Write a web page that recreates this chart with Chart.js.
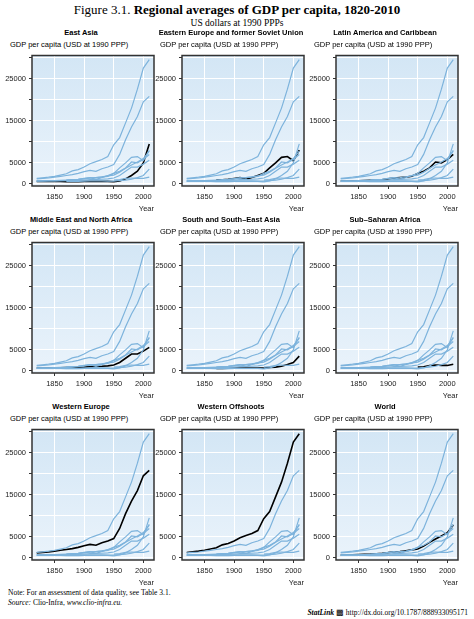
<!DOCTYPE html>
<html lang="en">
<head>
<meta charset="UTF-8">
<title>Regional averages of GDP per capita</title>
<script src="https://cdn.jsdelivr.net/npm/chart.js"></script>
<style>
  body { margin: 0; width: 474px; height: 619px; position: relative; font-family: "Liberation Sans", Arial, sans-serif; background: #fff; }
  #title { position: absolute; top: 2px; left: 0; width: 474px; text-align: center; font-family: "Liberation Serif", serif; font-size: 13px; }
  #sub { position: absolute; top: 18px; left: 0; width: 474px; text-align: center; font-family: "Liberation Serif", serif; font-size: 9.5px; }
  .panel { position: absolute; width: 158px; height: 185px; }
  .ptitle { position: absolute; top: 0; left: 0; width: 100%; text-align: center; font-weight: bold; font-size: 7.5px; font-family: "Liberation Sans Narrow", "Liberation Sans", sans-serif; }
  .ylab { position: absolute; top: 12px; left: 8px; font-size: 7.5px; font-family: "Liberation Sans Narrow", "Liberation Sans", sans-serif; white-space: nowrap; }
  .panel canvas { position: absolute; top: 20px; left: 0; }
  .foot { position: absolute; left: 8px; font-size: 7.5px; font-family: "Liberation Serif", serif; }
</style>
</head>
<body>
<div id="title">Figure 3.1. <b>Regional averages of GDP per capita, 1820-2010</b></div>
<div id="sub">US dollars at 1990 PPPs</div>
<div id="grid"></div>
<div class="foot" style="top:588px">Note: For an assessment of data quality, see Table 3.1.</div>
<div class="foot" style="top:598px"><i>Source:</i> Clio-Infra, <i>www.clio-infra.eu.</i></div>
<div class="foot" style="top:608px;left:auto;right:6px"><b><i>StatLink</i></b> &#9641; http://dx.doi.org/10.1787/888933095171</div>
<script>
const years = [1820,1830,1840,1850,1860,1870,1880,1890,1900,1910,1920,1930,1940,1950,1960,1970,1980,1990,2000,2010];
const regions = ["East Asia","Eastern Europe and former Soviet Union","Latin America and Caribbean",
  "Middle East and North Africa","South and South\u2013East Asia","Sub\u2013Saharan Africa",
  "Western Europe","Western Offshoots","World"];
const eastAsia = [600,600,600,600,600,550,550,550,600,600,600,600,600,500,700,1200,2000,3000,5000,9500];
const easternEurope = [null,null,null,null,null,900,1000,1100,1300,1500,1100,1500,2000,2500,3800,5000,6300,6500,5500,8000];
const latinAmerica = [700,700,750,750,800,850,900,1000,1200,1400,1500,1600,1800,2500,3000,3800,5200,5000,5800,7000];
const middleEast = [700,700,720,740,760,780,800,850,900,1000,1050,1100,1200,1400,2000,3000,4000,4000,4700,5600];
const southAsia = [null,null,null,null,null,600,600,620,650,700,700,700,650,650,800,900,1100,1500,2000,3500];
const subSaharan = [null,null,null,null,null,null,null,null,null,null,null,null,null,900,1000,1300,1400,1300,1300,1600];
const westernEurope = [1200,1300,1400,1600,1800,2000,2200,2500,2900,3200,3000,3600,4000,4600,7000,10500,13500,16000,19500,20800];
const westernOffshoots = [1300,1450,1600,1800,2100,2400,3100,3400,4000,4800,5300,5800,6500,9300,11000,14500,18000,22500,27500,29500];
const world = [650,700,750,800,850,900,1000,1100,1250,1450,1500,1700,1900,2100,2800,3700,4500,5200,6000,7800];
const seriesList = [eastAsia,easternEurope,latinAmerica,middleEast,southAsia,subSaharan,westernEurope,westernOffshoots,world];
const yTickLabels = [0,5000,15000,25000];
const xTickLabels = [1850,1900,1950,2000];

const bgPlugin = {
  id: 'bg',
  beforeDraw(chart) {
    const a = chart.chartArea, c = chart.ctx;
    const g = c.createLinearGradient(0, a.top, 0, a.bottom);
    g.addColorStop(0, '#d3e6f5'); g.addColorStop(1, '#eaf3fb');
    c.save(); c.fillStyle = g; c.fillRect(a.left, a.top, a.width, a.height); c.restore();
  },
  afterDraw(chart) {
    const a = chart.chartArea, c = chart.ctx;
    c.save(); c.strokeStyle = '#333'; c.lineWidth = 1.5;
    c.strokeRect(a.left, a.top, a.width, a.height); c.restore();
  }
};

const lefts = [2, 152, 306], tops = [28, 215, 402];
regions.forEach((name, i) => {
  const div = document.createElement('div');
  div.className = 'panel';
  div.style.left = lefts[i % 3] + 'px';
  div.style.top = tops[Math.floor(i / 3)] + 'px';
  div.innerHTML = `<div class="ptitle">${name}</div><div class="ylab">GDP per capita (USD at 1990 PPP)</div><canvas width="158" height="165"></canvas>`;
  document.getElementById('grid').appendChild(div);
  const ds = [];
  seriesList.forEach((s, j) => {
    if (j === i) return;
    ds.push({ data: years.map((y, k) => ({x: y, y: s[k]})), borderColor: '#7db3dc', borderWidth: 1.2, pointRadius: 0, spanGaps: false });
  });
  ds.push({ data: years.map((y, k) => ({x: y, y: seriesList[i][k]})), borderColor: '#000', borderWidth: 1.6, pointRadius: 0 });
  new Chart(div.querySelector('canvas'), {
    type: 'line',
    data: { datasets: ds },
    plugins: [bgPlugin],
    options: {
      responsive: false, animation: false,
      layout: { padding: { left: 0, right: 6, top: 4 } },
      plugins: { legend: { display: false }, tooltip: { enabled: false } },
      scales: {
        x: { type: 'linear', min: 1812, max: 2018,
          afterBuildTicks: ax => { ax.ticks = xTickLabels.map(v => ({value: v})); },
          ticks: { font: { size: 7.5 }, color: '#222', maxRotation: 0, callback: v => v },
          grid: { color: '#fff', drawTicks: true, tickColor: '#333', tickLength: 3 }, border: { display: false },
          title: { display: true, text: 'Year', align: 'end', font: { size: 7.5 }, color: '#222', padding: 0 } },
        y: { min: -500, max: 30500, afterBuildTicks: ax => { ax.ticks = [0,5000,10000,15000,20000,25000,30000].map(v => ({value: v})); },
          ticks: { font: { size: 7.5 }, color: '#222', callback: v => yTickLabels.includes(v) ? v : '' },
          grid: { color: '#fff', tickColor: '#333', tickLength: 3 }, border: { display: false }, afterFit: ax => { ax.width = 30; } }
      }
    }
  });
});
</script>
</body>
</html>
